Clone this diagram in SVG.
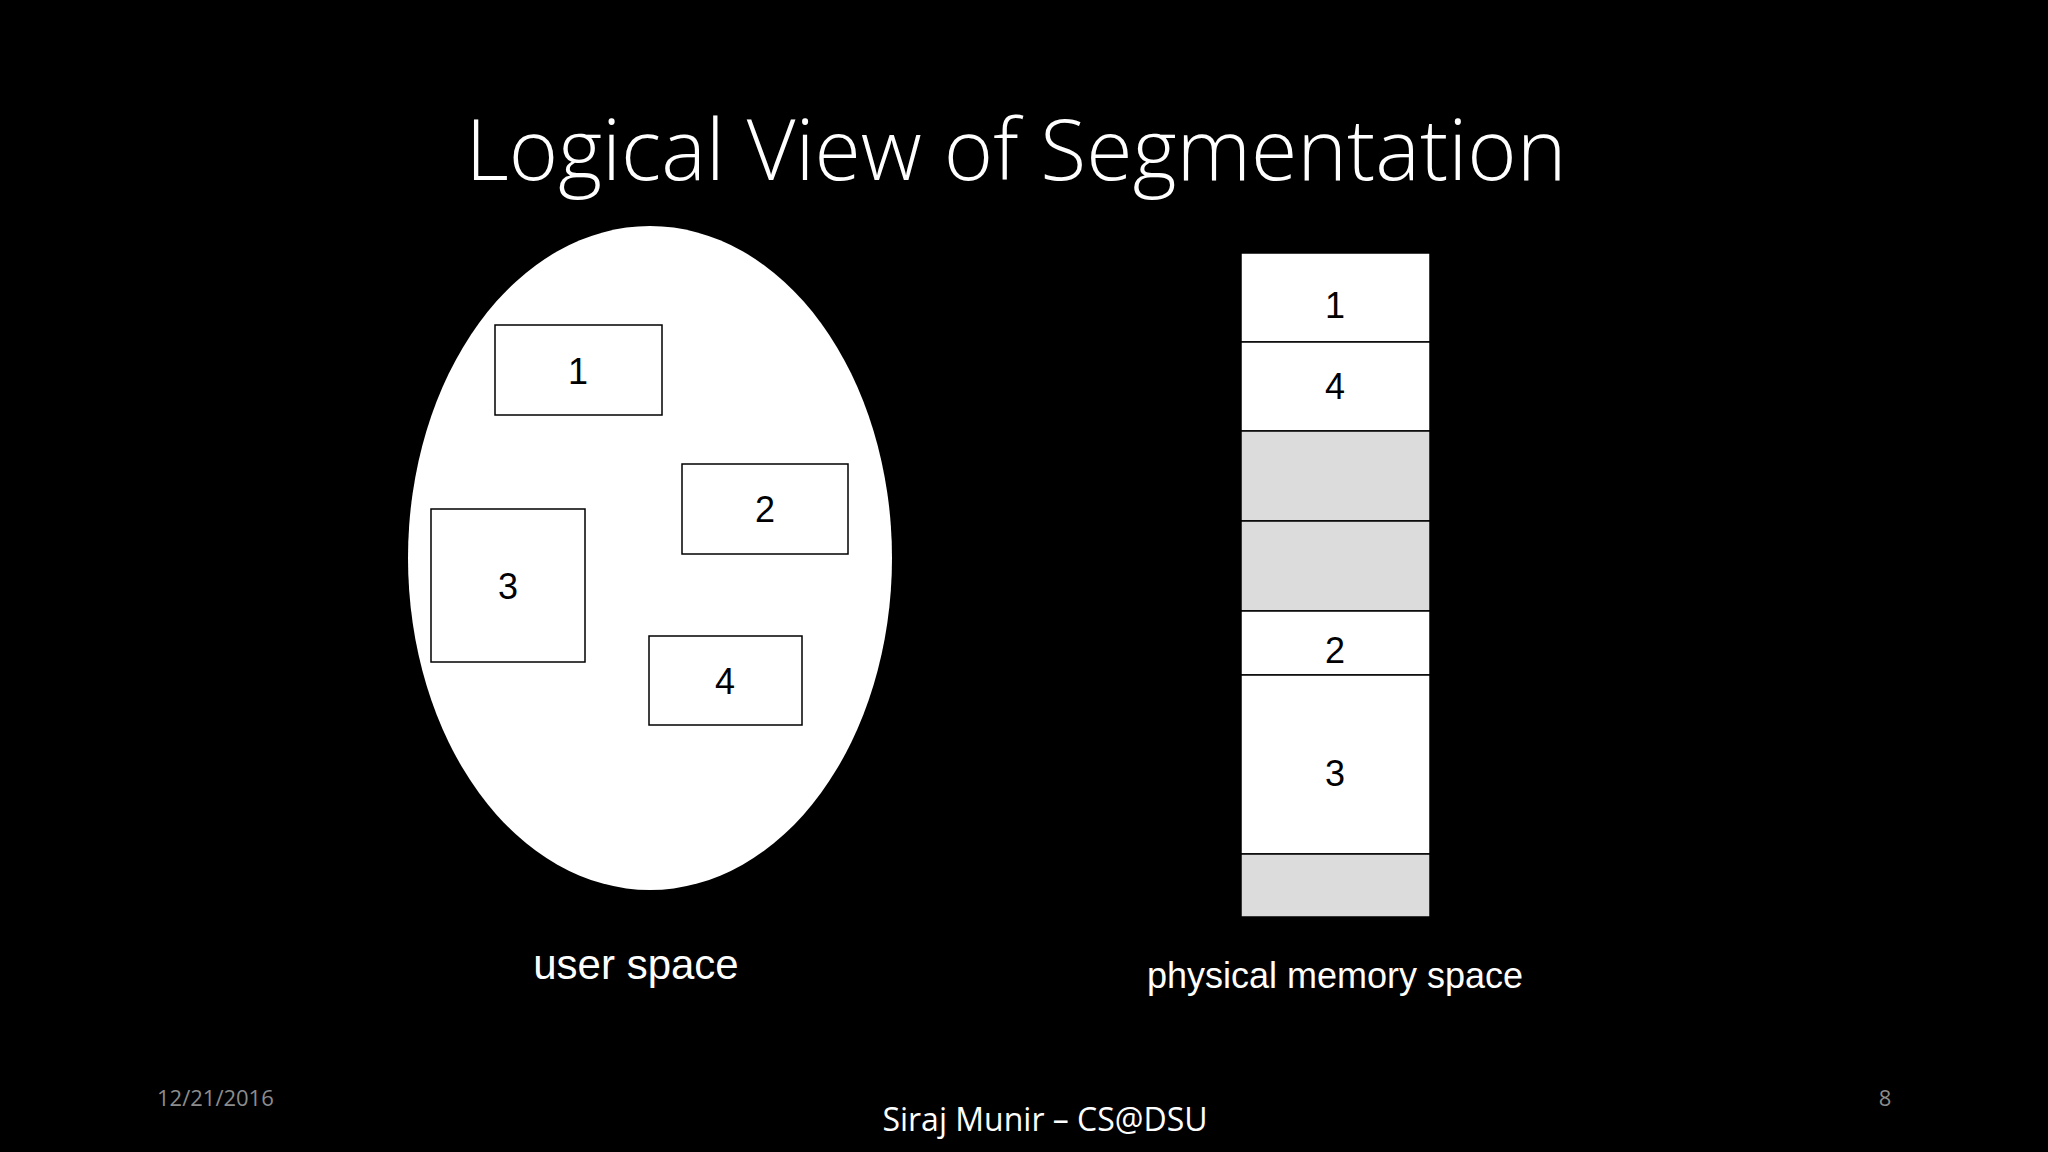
<svg xmlns="http://www.w3.org/2000/svg" width="2048" height="1152" viewBox="0 0 2048 1152">
<style>
.b{fill:#fff;stroke:#000;stroke-width:1.5}
.g{fill:#dcdcdc;stroke:#000;stroke-width:1.5}
.n{font-family:"Liberation Sans",Arial,sans-serif;font-size:36px;fill:#000;text-anchor:middle}
.w{font-family:"Liberation Sans",Arial,sans-serif;fill:#fff;text-anchor:middle}
.f{font-family:"Open Sans","Liberation Sans",sans-serif;fill:#fff}
</style>
<rect width="2048" height="1152" fill="#000"/>
<text class="f" x="1016" y="180" font-size="84" font-weight="300" text-anchor="middle" textLength="1101" lengthAdjust="spacingAndGlyphs">Logical View of Segmentation</text>
<g id="userspace">
<ellipse cx="650" cy="558" rx="242" ry="332" fill="#fff"/>
</g>
<g id="seg1"><rect class="b" x="495" y="325" width="167" height="90"/><text class="n" x="578" y="384">1</text></g>
<g id="seg2"><rect class="b" x="682" y="464" width="166" height="90"/><text class="n" x="765" y="522">2</text></g>
<g id="seg3"><rect class="b" x="431" y="509" width="154" height="153"/><text class="n" x="508" y="599">3</text></g>
<g id="seg4"><rect class="b" x="649" y="636" width="153" height="89"/><text class="n" x="725" y="694">4</text></g>
<g id="memory">
<rect class="b" x="1241" y="253" width="189" height="89"/><text class="n" x="1335" y="318">1</text>
<rect class="b" x="1241" y="342" width="189" height="89"/><text class="n" x="1335" y="399">4</text>
<rect class="g" x="1241" y="431" width="189" height="90"/>
<rect class="g" x="1241" y="521" width="189" height="90"/>
<rect class="b" x="1241" y="611" width="189" height="64"/><text class="n" x="1335" y="663">2</text>
<rect class="b" x="1241" y="675" width="189" height="179"/><text class="n" x="1335" y="786">3</text>
<rect class="g" x="1241" y="854" width="189" height="63"/>
</g>
<text class="w" x="636" y="979" font-size="42">user space</text>
<text class="w" x="1335" y="988" font-size="36">physical memory space</text>
<text class="f" x="157" y="1106" font-size="22" fill="#999" style="fill:#8c8c8c">12/21/2016</text>
<text class="f" x="1045" y="1131" font-size="32" text-anchor="middle">Siraj Munir – CS@DSU</text>
<text class="f" x="1885" y="1106" font-size="22" text-anchor="middle" style="fill:#8c8c8c">8</text>
</svg>
